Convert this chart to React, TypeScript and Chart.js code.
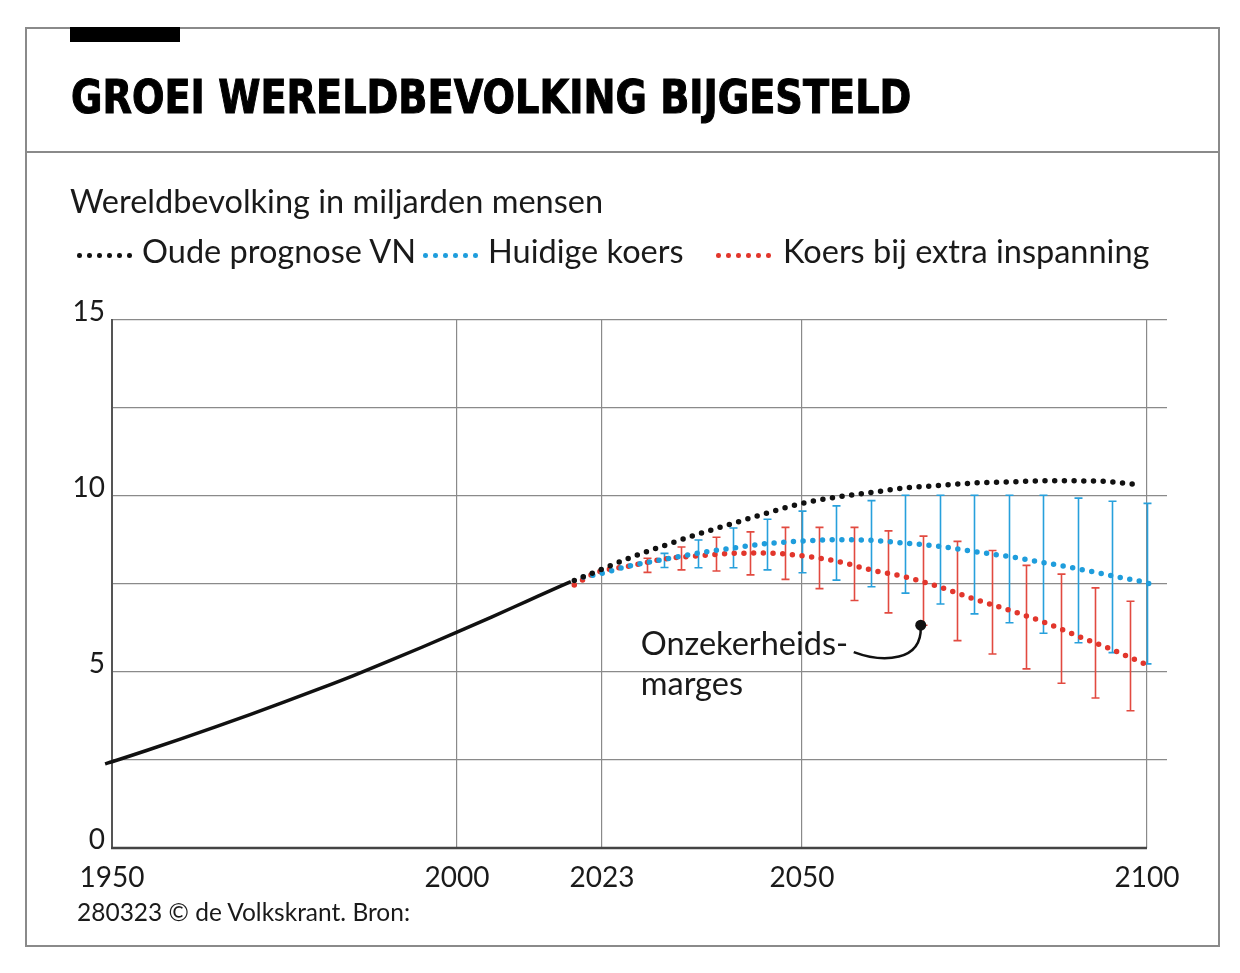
import React, { useEffect, useRef } from "react";
import { Chart, registerables } from "chart.js";

Chart.register(...registerables);

// ---------- data ----------
const histYears = [1949, 1950, 1955, 1960, 1965, 1970, 1975, 1980, 1985, 1990, 1995, 2000, 2005, 2010, 2015, 2016.5];
const histValues = [2.39, 2.45, 2.77, 3.1, 3.44, 3.79, 4.15, 4.52, 4.9, 5.3, 5.71, 6.13, 6.56, 7.0, 7.44, 7.57];

const oldYears = [2017, 2020, 2025, 2030, 2035, 2040, 2045, 2050, 2055, 2060, 2065, 2070, 2075, 2080, 2085, 2090, 2095, 2099];
const oldValues = [7.6, 7.84, 8.24, 8.59, 8.92, 9.22, 9.52, 9.79, 9.97, 10.1, 10.23, 10.3, 10.37, 10.4, 10.43, 10.43, 10.4, 10.31];

const currentYears = [2018.3, 2020, 2025, 2030, 2035, 2040, 2045, 2050, 2055, 2060, 2065, 2070, 2075, 2080, 2085, 2090, 2095, 2100, 2101.5];
const currentValues = [7.7, 7.76, 8.01, 8.2, 8.38, 8.52, 8.65, 8.72, 8.76, 8.74, 8.66, 8.57, 8.42, 8.28, 8.11, 7.93, 7.73, 7.53, 7.44];

const extraYears = [2017, 2020, 2025, 2030, 2035, 2040, 2045, 2050, 2055, 2060, 2065, 2070, 2075, 2080, 2085, 2090, 2095, 2100, 2100.7];
const extraValues = [7.47, 7.81, 8.01, 8.21, 8.3, 8.37, 8.38, 8.3, 8.15, 7.9, 7.7, 7.41, 7.07, 6.76, 6.42, 6.02, 5.63, 5.2, 5.14];

const currentBarYears = [2030, 2035, 2040, 2045, 2050, 2055, 2060, 2065, 2070, 2075, 2080, 2085, 2090, 2095, 2100];
const currentBarHigh = [8.37, 8.75, 9.09, 9.34, 9.57, 9.72, 9.87, 10.02, 10.02, 10.02, 10.02, 10.02, 9.94, 9.85, 9.79];
const currentBarLow = [7.97, 7.96, 7.96, 7.9, 7.82, 7.61, 7.42, 7.24, 6.93, 6.65, 6.4, 6.1, 5.83, 5.55, 5.23];

const extraBarYears = [2027.5, 2032.5, 2037.5, 2042.5, 2047.5, 2052.5, 2057.5, 2062.5, 2067.5, 2072.5, 2077.5, 2082.5, 2087.5, 2092.5, 2097.5];
const extraBarHigh = [8.23, 8.55, 8.83, 8.98, 9.11, 9.11, 9.11, 9.01, 8.86, 8.71, 8.45, 8.03, 7.78, 7.39, 7.01];
const extraBarLow = [7.83, 7.9, 7.87, 7.76, 7.63, 7.37, 7.03, 6.68, 6.33, 5.89, 5.51, 5.09, 4.68, 4.26, 3.9];

// x-axis gridlines as drawn in the reference, with their labels
const gridYears = [1950, 2000, 2021, 2050, 2100];
const gridLabels = ["1950", "2000", "2023", "2050", "2100"];
const yLabelValues = [0, 5, 10, 15];

const legendLabels = ["Oude prognose VN", "Huidige koers", "Koers bij extra inspanning"];
const annotationLines = ["Onzekerheids-", "marges"];
const annotationBarIndex = 8; // bottom of this red uncertainty bar

// ---------- styles ----------
const FONT = "Lato, 'Noto Sans', sans-serif";
const TEXT = "#1a1a1a";
const BLACK = "#111111";
const BLUE = "#1f9ddc";
const RED = "#e2362c";
const BLUE_BAR = "#27a0dc";
const RED_BAR = "#e24a40";
const GRID = "#8a8a8a";

const pts = (xs: number[], ys: number[]) => xs.map((x, i) => ({ x, y: ys[i] }));

const errorBarsPlugin = {
  id: "errorBars",
  beforeDatasetsDraw(chart: any) {
    const { ctx, scales } = chart;
    const x = scales.x;
    const y = scales.y;
    const draw = (years: number[], lows: number[], highs: number[], color: string) => {
      ctx.save();
      ctx.strokeStyle = color;
      ctx.lineWidth = 1.6;
      years.forEach((yr, i) => {
        const px = Math.round(x.getPixelForValue(yr)) + 0.5;
        const top = y.getPixelForValue(highs[i]);
        const bot = y.getPixelForValue(lows[i]);
        ctx.beginPath();
        ctx.moveTo(px, top);
        ctx.lineTo(px, bot);
        ctx.moveTo(px - 4, top);
        ctx.lineTo(px + 4, top);
        ctx.moveTo(px - 4, bot);
        ctx.lineTo(px + 4, bot);
        ctx.stroke();
      });
      ctx.restore();
    };
    draw(extraBarYears, extraBarLow, extraBarHigh, RED_BAR);
    draw(currentBarYears, currentBarLow, currentBarHigh, BLUE_BAR);
  },
};

const axisPlugin = {
  id: "bottomAxis",
  afterDatasetsDraw(chart: any) {
    const { ctx, scales } = chart;
    const x = scales.x;
    const y = scales.y;
    ctx.save();
    ctx.strokeStyle = "#444";
    ctx.lineWidth = 2.5;
    const py = y.getPixelForValue(0);
    ctx.beginPath();
    ctx.moveTo(x.getPixelForValue(gridYears[0]) - 1, py);
    ctx.lineTo(x.getPixelForValue(gridYears[gridYears.length - 1]), py);
    ctx.stroke();
    ctx.restore();
  },
};

const annotationPlugin = {
  id: "annot",
  afterDatasetsDraw(chart: any) {
    const { ctx, scales } = chart;
    const dx = scales.x.getPixelForValue(extraBarYears[annotationBarIndex]) - 2;
    const dy = scales.y.getPixelForValue(extraBarLow[annotationBarIndex]);
    ctx.save();
    ctx.strokeStyle = BLACK;
    ctx.lineWidth = 2.5;
    ctx.beginPath();
    ctx.moveTo(dx - 67, dy + 27);
    ctx.bezierCurveTo(dx - 37, dy + 38, dx + 1, dy + 36, dx, dy + 2);
    ctx.stroke();
    ctx.fillStyle = BLACK;
    ctx.beginPath();
    ctx.arc(dx, dy, 5.5, 0, Math.PI * 2);
    ctx.fill();
    ctx.font = `32.5px ${FONT}`;
    ctx.fillStyle = TEXT;
    ctx.textBaseline = "alphabetic";
    ctx.textAlign = "left";
    ctx.fillText(annotationLines[0], dx - 280, dy + 30);
    ctx.fillText(annotationLines[1], dx - 280, dy + 70);
    ctx.restore();
  },
};

function Dots({ color, left }: { color: string; left: number }) {
  return (
    <div style={{ position: "absolute", left, top: 18, height: 5, display: "flex", gap: "5.5px" }}>
      {[0, 1, 2, 3, 4, 5].map((i) => (
        <div key={i} style={{ width: 4.6, height: 4.6, borderRadius: "50%", background: color }} />
      ))}
    </div>
  );
}

export default function App() {
  const ref = useRef<HTMLCanvasElement>(null);

  useEffect(() => {
    const canvas = ref.current!;
    const dotted = (label: string, xs: number[], ys: number[], color: string) => ({
      label,
      data: pts(xs, ys),
      borderColor: color,
      backgroundColor: color,
      borderWidth: 5.5,
      borderDash: [0, 9.7],
      borderCapStyle: "round" as const,
      pointRadius: 0,
      cubicInterpolationMode: "monotone" as const,
      fill: false,
    });
    const chart = new Chart(canvas, {
      type: "line",
      data: {
        datasets: [
          {
            label: "Historisch",
            data: pts(histYears, histValues),
            borderColor: BLACK,
            borderWidth: 3.5,
            pointRadius: 0,
            cubicInterpolationMode: "monotone",
            fill: false,
            clip: false,
          } as any,
          dotted(legendLabels[0], oldYears, oldValues, BLACK),
          dotted(legendLabels[1], currentYears, currentValues, BLUE),
          dotted(legendLabels[2], extraYears, extraValues, RED),
        ],
      },
      options: {
        animation: false,
        responsive: false,
        maintainAspectRatio: false,
        devicePixelRatio: 1,
        layout: { padding: { left: 0, top: 320, right: 73, bottom: 0 } },
        plugins: { legend: { display: false }, tooltip: { enabled: false } },
        scales: {
          x: {
            type: "linear",
            min: 1950,
            max: 2102.9,
            afterBuildTicks: (s: any) => {
              s.ticks = gridYears.map((v) => ({ value: v }));
            },
            afterFit: (s: any) => {
              s.height = 125;
            },
            grid: {
              color: (c: any) => (c.tick && c.tick.value === gridYears[0] ? "transparent" : GRID),
              lineWidth: 1.2,
              drawTicks: false,
            },
            border: { display: false },
            ticks: {
              font: { family: FONT, size: 28 },
              color: TEXT,
              padding: 13,
              maxRotation: 0,
              autoSkip: false,
              callback: (_v: any, i: number) => gridLabels[i],
            },
          },
          y: {
            min: 0,
            max: 15,
            afterFit: (s: any) => {
              s.width = 112;
            },
            grid: {
              color: (c: any) => (c.tick && c.tick.value === 0 ? "transparent" : GRID),
              lineWidth: 1.2,
              drawTicks: false,
            },
            border: { display: true, color: "#555", width: 2 },
            ticks: {
              stepSize: 2.5,
              font: { family: FONT, size: 28 },
              color: TEXT,
              padding: 7,
              labelOffset: -8,
              callback: (v: any) => (yLabelValues.includes(Number(v)) ? String(v) : ""),
            },
          },
        },
      },
      plugins: [errorBarsPlugin, axisPlugin, annotationPlugin],
    });
    return () => chart.destroy();
  }, []);

  const textStyle: React.CSSProperties = {
    position: "absolute",
    fontFamily: FONT,
    color: TEXT,
    lineHeight: 1,
    whiteSpace: "nowrap",
  };

  return (
    <div style={{ position: "absolute", left: 0, top: 0, width: 1240, height: 973, background: "#fff", overflow: "hidden" }}>
      <canvas ref={ref} width={1240} height={973} style={{ position: "absolute", left: 0, top: 0 }} />
      <div style={{ position: "absolute", left: 25, top: 27, width: 1195, height: 920, border: "2px solid #8a8a8a", boxSizing: "border-box", pointerEvents: "none" }} />
      <div style={{ position: "absolute", left: 70, top: 27, width: 110, height: 15, background: "#000" }} />
      <div style={{ position: "absolute", left: 25, top: 151, width: 1195, height: 2, background: "#8a8a8a" }} />
      <div
        style={{
          ...textStyle,
          left: 71,
          top: 74,
          fontFamily: "'Liberation Sans Narrow', 'DejaVu Sans Condensed', sans-serif",
          fontWeight: 700,
          fontSize: 46,
          color: "#000",
          WebkitTextStroke: "1px #000",
          transform: "scaleX(0.925)",
          transformOrigin: "left center",
        }}
      >
        GROEI WERELDBEVOLKING BIJGESTELD
      </div>
      <div style={{ ...textStyle, left: 70, top: 185, fontSize: 32.5 }}>Wereldbevolking in miljarden mensen</div>
      <div style={{ ...textStyle, left: 77, top: 235, fontSize: 32.5, width: 1100, height: 40 }}>
        <Dots color={BLACK} left={0} />
        <span style={{ position: "absolute", left: 65, top: 0 }}>{legendLabels[0]}</span>
        <Dots color={BLUE} left={346} />
        <span style={{ position: "absolute", left: 411, top: 0 }}>{legendLabels[1]}</span>
        <Dots color={RED} left={639} />
        <span style={{ position: "absolute", left: 706, top: 0 }}>{legendLabels[2]}</span>
      </div>
      <div style={{ ...textStyle, left: 77, top: 900, fontSize: 24.5 }}>280323 © de Volkskrant. Bron:</div>
    </div>
  );
}
